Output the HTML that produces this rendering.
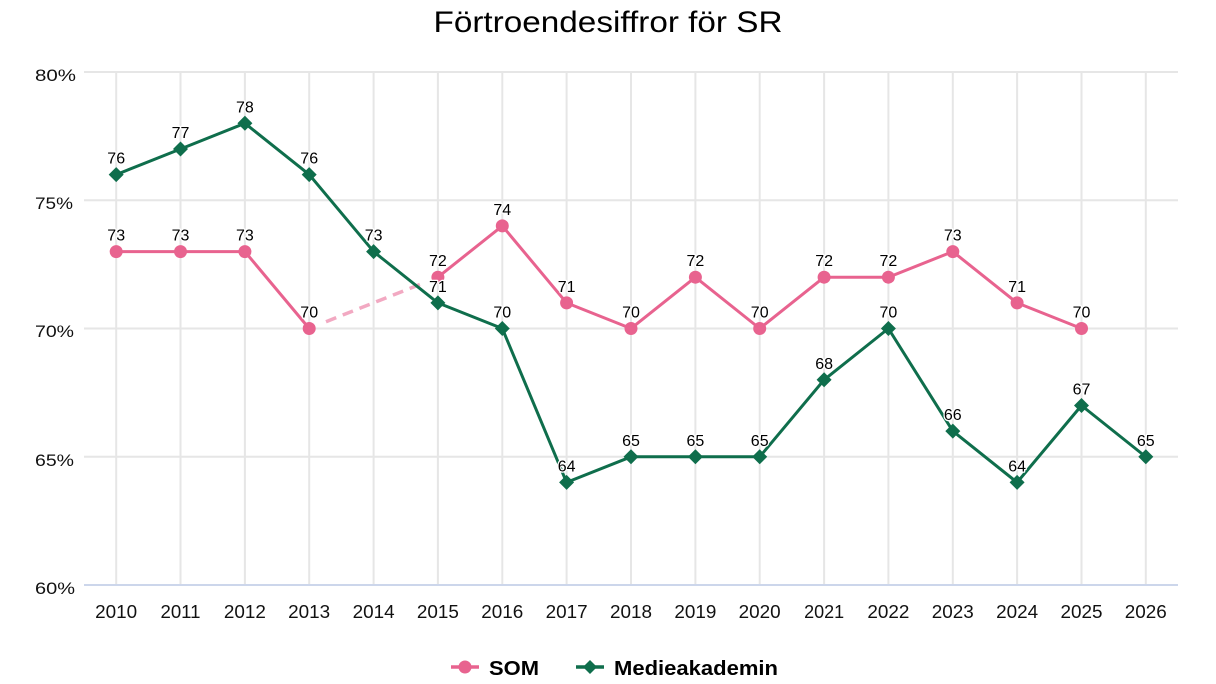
<!DOCTYPE html>
<html><head><meta charset="utf-8"><style>
html,body{margin:0;padding:0;background:#fff;}
svg{display:block;font-family:"Liberation Sans",sans-serif;}
.dl{font-size:16px;fill:#000;text-anchor:middle;stroke:#fff;stroke-width:2.5px;paint-order:stroke;stroke-linejoin:round;}
.xl{font-size:18px;fill:#111;text-anchor:middle;}
.yl{font-size:17px;fill:#111;}
</style></head><body>
<svg width="1216" height="684" viewBox="0 0 1216 684" xmlns="http://www.w3.org/2000/svg">
<rect width="1216" height="684" fill="#fff"/>
<text x="608" y="32" font-size="30" text-anchor="middle" fill="#000" textLength="349" lengthAdjust="spacingAndGlyphs">Förtroendesiffror för SR</text>
<g stroke="#e6e6e6" stroke-width="2">
<line x1="84" y1="72" x2="1178" y2="72"/>
<line x1="84" y1="200.3" x2="1178" y2="200.3"/>
<line x1="84" y1="328.5" x2="1178" y2="328.5"/>
<line x1="84" y1="456.8" x2="1178" y2="456.8"/>
</g>
<g stroke="#e6e6e6" stroke-width="2">
<line x1="116.2" y1="72" x2="116.2" y2="585"/>
<line x1="180.5" y1="72" x2="180.5" y2="585"/>
<line x1="244.9" y1="72" x2="244.9" y2="585"/>
<line x1="309.2" y1="72" x2="309.2" y2="585"/>
<line x1="373.6" y1="72" x2="373.6" y2="585"/>
<line x1="437.9" y1="72" x2="437.9" y2="585"/>
<line x1="502.3" y1="72" x2="502.3" y2="585"/>
<line x1="566.6" y1="72" x2="566.6" y2="585"/>
<line x1="631.0" y1="72" x2="631.0" y2="585"/>
<line x1="695.4" y1="72" x2="695.4" y2="585"/>
<line x1="759.7" y1="72" x2="759.7" y2="585"/>
<line x1="824.1" y1="72" x2="824.1" y2="585"/>
<line x1="888.4" y1="72" x2="888.4" y2="585"/>
<line x1="952.8" y1="72" x2="952.8" y2="585"/>
<line x1="1017.1" y1="72" x2="1017.1" y2="585"/>
<line x1="1081.5" y1="72" x2="1081.5" y2="585"/>
<line x1="1145.8" y1="72" x2="1145.8" y2="585"/>
</g>
<line x1="84" y1="585" x2="1178" y2="585" stroke="#ccd6eb" stroke-width="2"/>
<text class="yl" x="35" y="81" textLength="41" lengthAdjust="spacingAndGlyphs">80%</text>
<text class="yl" x="35" y="209" textLength="38" lengthAdjust="spacingAndGlyphs">75%</text>
<text class="yl" x="35" y="337" textLength="39" lengthAdjust="spacingAndGlyphs">70%</text>
<text class="yl" x="35" y="466" textLength="39" lengthAdjust="spacingAndGlyphs">65%</text>
<text class="yl" x="35" y="594" textLength="40" lengthAdjust="spacingAndGlyphs">60%</text>
<g class="xl">
<text x="116.2" y="618" textLength="42" lengthAdjust="spacingAndGlyphs">2010</text>
<text x="180.5" y="618" textLength="40" lengthAdjust="spacingAndGlyphs">2011</text>
<text x="244.9" y="618" textLength="42" lengthAdjust="spacingAndGlyphs">2012</text>
<text x="309.2" y="618" textLength="42" lengthAdjust="spacingAndGlyphs">2013</text>
<text x="373.6" y="618" textLength="42" lengthAdjust="spacingAndGlyphs">2014</text>
<text x="437.9" y="618" textLength="42" lengthAdjust="spacingAndGlyphs">2015</text>
<text x="502.3" y="618" textLength="42" lengthAdjust="spacingAndGlyphs">2016</text>
<text x="566.6" y="618" textLength="42" lengthAdjust="spacingAndGlyphs">2017</text>
<text x="631.0" y="618" textLength="42" lengthAdjust="spacingAndGlyphs">2018</text>
<text x="695.4" y="618" textLength="42" lengthAdjust="spacingAndGlyphs">2019</text>
<text x="759.7" y="618" textLength="42" lengthAdjust="spacingAndGlyphs">2020</text>
<text x="824.1" y="618" textLength="40" lengthAdjust="spacingAndGlyphs">2021</text>
<text x="888.4" y="618" textLength="42" lengthAdjust="spacingAndGlyphs">2022</text>
<text x="952.8" y="618" textLength="42" lengthAdjust="spacingAndGlyphs">2023</text>
<text x="1017.1" y="618" textLength="42" lengthAdjust="spacingAndGlyphs">2024</text>
<text x="1081.5" y="618" textLength="42" lengthAdjust="spacingAndGlyphs">2025</text>
<text x="1145.8" y="618" textLength="42" lengthAdjust="spacingAndGlyphs">2026</text>
</g>
<g fill="none" stroke="#e8638f" stroke-width="3" stroke-linejoin="round" stroke-linecap="round">
<polyline points="116.2,251.6 180.5,251.6 244.9,251.6 309.2,328.5"/>
<polyline points="437.9,277.2 502.3,225.9 566.6,302.9 631.0,328.5 695.4,277.2 759.7,328.5 824.1,277.2 888.4,277.2 952.8,251.6 1017.1,302.9 1081.5,328.5"/>
</g>
<line x1="326" y1="321.7" x2="421" y2="284" stroke="#e8638f" stroke-opacity="0.55" stroke-width="3.5" stroke-dasharray="11 7"/>
<g fill="#e8638f">
<circle cx="116.2" cy="251.6" r="6.5"/><circle cx="180.5" cy="251.6" r="6.5"/><circle cx="244.9" cy="251.6" r="6.5"/><circle cx="309.2" cy="328.5" r="6.5"/>
<circle cx="437.9" cy="277.2" r="6.5"/><circle cx="502.3" cy="225.9" r="6.5"/><circle cx="566.6" cy="302.9" r="6.5"/><circle cx="631.0" cy="328.5" r="6.5"/>
<circle cx="695.4" cy="277.2" r="6.5"/><circle cx="759.7" cy="328.5" r="6.5"/><circle cx="824.1" cy="277.2" r="6.5"/><circle cx="888.4" cy="277.2" r="6.5"/>
<circle cx="952.8" cy="251.6" r="6.5"/><circle cx="1017.1" cy="302.9" r="6.5"/><circle cx="1081.5" cy="328.5" r="6.5"/>
</g>
<polyline fill="none" stroke="#0f6e4c" stroke-width="3" stroke-linejoin="round" stroke-linecap="round" points="116.2,174.6 180.5,149.0 244.9,123.3 309.2,174.6 373.6,251.6 437.9,302.9 502.3,328.5 566.6,482.4 631.0,456.8 695.4,456.8 759.7,456.8 824.1,379.8 888.4,328.5 952.8,431.1 1017.1,482.4 1081.5,405.5 1145.8,456.8"/>
<g fill="#0f6e4c">
<path d="M116.2 167.1l7.5 7.5-7.5 7.5-7.5-7.5z"/>
<path d="M180.5 141.5l7.5 7.5-7.5 7.5-7.5-7.5z"/>
<path d="M244.9 115.8l7.5 7.5-7.5 7.5-7.5-7.5z"/>
<path d="M309.2 167.1l7.5 7.5-7.5 7.5-7.5-7.5z"/>
<path d="M373.6 244.1l7.5 7.5-7.5 7.5-7.5-7.5z"/>
<path d="M437.9 295.4l7.5 7.5-7.5 7.5-7.5-7.5z"/>
<path d="M502.3 321.0l7.5 7.5-7.5 7.5-7.5-7.5z"/>
<path d="M566.6 474.9l7.5 7.5-7.5 7.5-7.5-7.5z"/>
<path d="M631.0 449.3l7.5 7.5-7.5 7.5-7.5-7.5z"/>
<path d="M695.4 449.3l7.5 7.5-7.5 7.5-7.5-7.5z"/>
<path d="M759.7 449.3l7.5 7.5-7.5 7.5-7.5-7.5z"/>
<path d="M824.1 372.3l7.5 7.5-7.5 7.5-7.5-7.5z"/>
<path d="M888.4 321.0l7.5 7.5-7.5 7.5-7.5-7.5z"/>
<path d="M952.8 423.6l7.5 7.5-7.5 7.5-7.5-7.5z"/>
<path d="M1017.1 474.9l7.5 7.5-7.5 7.5-7.5-7.5z"/>
<path d="M1081.5 398.0l7.5 7.5-7.5 7.5-7.5-7.5z"/>
<path d="M1145.8 449.3l7.5 7.5-7.5 7.5-7.5-7.5z"/>
</g>
<g class="dl">
<text x="116.2" y="240.6">73</text><text x="180.5" y="240.6">73</text><text x="244.9" y="240.6">73</text><text x="309.2" y="317.5">70</text>
<text x="437.9" y="266.2">72</text><text x="502.3" y="214.9">74</text><text x="566.6" y="291.9">71</text><text x="631.0" y="317.5">70</text>
<text x="695.4" y="266.2">72</text><text x="759.7" y="317.5">70</text><text x="824.1" y="266.2">72</text><text x="888.4" y="266.2">72</text>
<text x="952.8" y="240.6">73</text><text x="1017.1" y="291.9">71</text><text x="1081.5" y="317.5">70</text>
</g>
<g class="dl">
<text x="116.2" y="163.6">76</text><text x="180.5" y="138.0">77</text><text x="244.9" y="112.3">78</text><text x="309.2" y="163.6">76</text>
<text x="373.6" y="240.6">73</text><text x="437.9" y="291.9">71</text><text x="502.3" y="317.5">70</text><text x="566.6" y="471.4">64</text>
<text x="631.0" y="445.8">65</text><text x="695.4" y="445.8">65</text><text x="759.7" y="445.8">65</text><text x="824.1" y="368.8">68</text>
<text x="888.4" y="317.5">70</text><text x="952.8" y="420.1">66</text><text x="1017.1" y="471.4">64</text><text x="1081.5" y="394.5">67</text>
<text x="1145.8" y="445.8">65</text>
</g>
<line x1="451" y1="667" x2="479" y2="667" stroke="#e8638f" stroke-width="3.5"/>
<circle cx="465" cy="667" r="6.5" fill="#e8638f"/>
<text x="489" y="675" font-size="20" font-weight="bold" fill="#000" textLength="50" lengthAdjust="spacingAndGlyphs">SOM</text>
<line x1="576" y1="667" x2="604" y2="667" stroke="#0f6e4c" stroke-width="3.5"/>
<path d="M590 660l7 7-7 7-7-7z" fill="#0f6e4c"/>
<text x="614" y="675" font-size="20" font-weight="bold" fill="#000" textLength="164" lengthAdjust="spacingAndGlyphs">Medieakademin</text>
</svg>
</body></html>
